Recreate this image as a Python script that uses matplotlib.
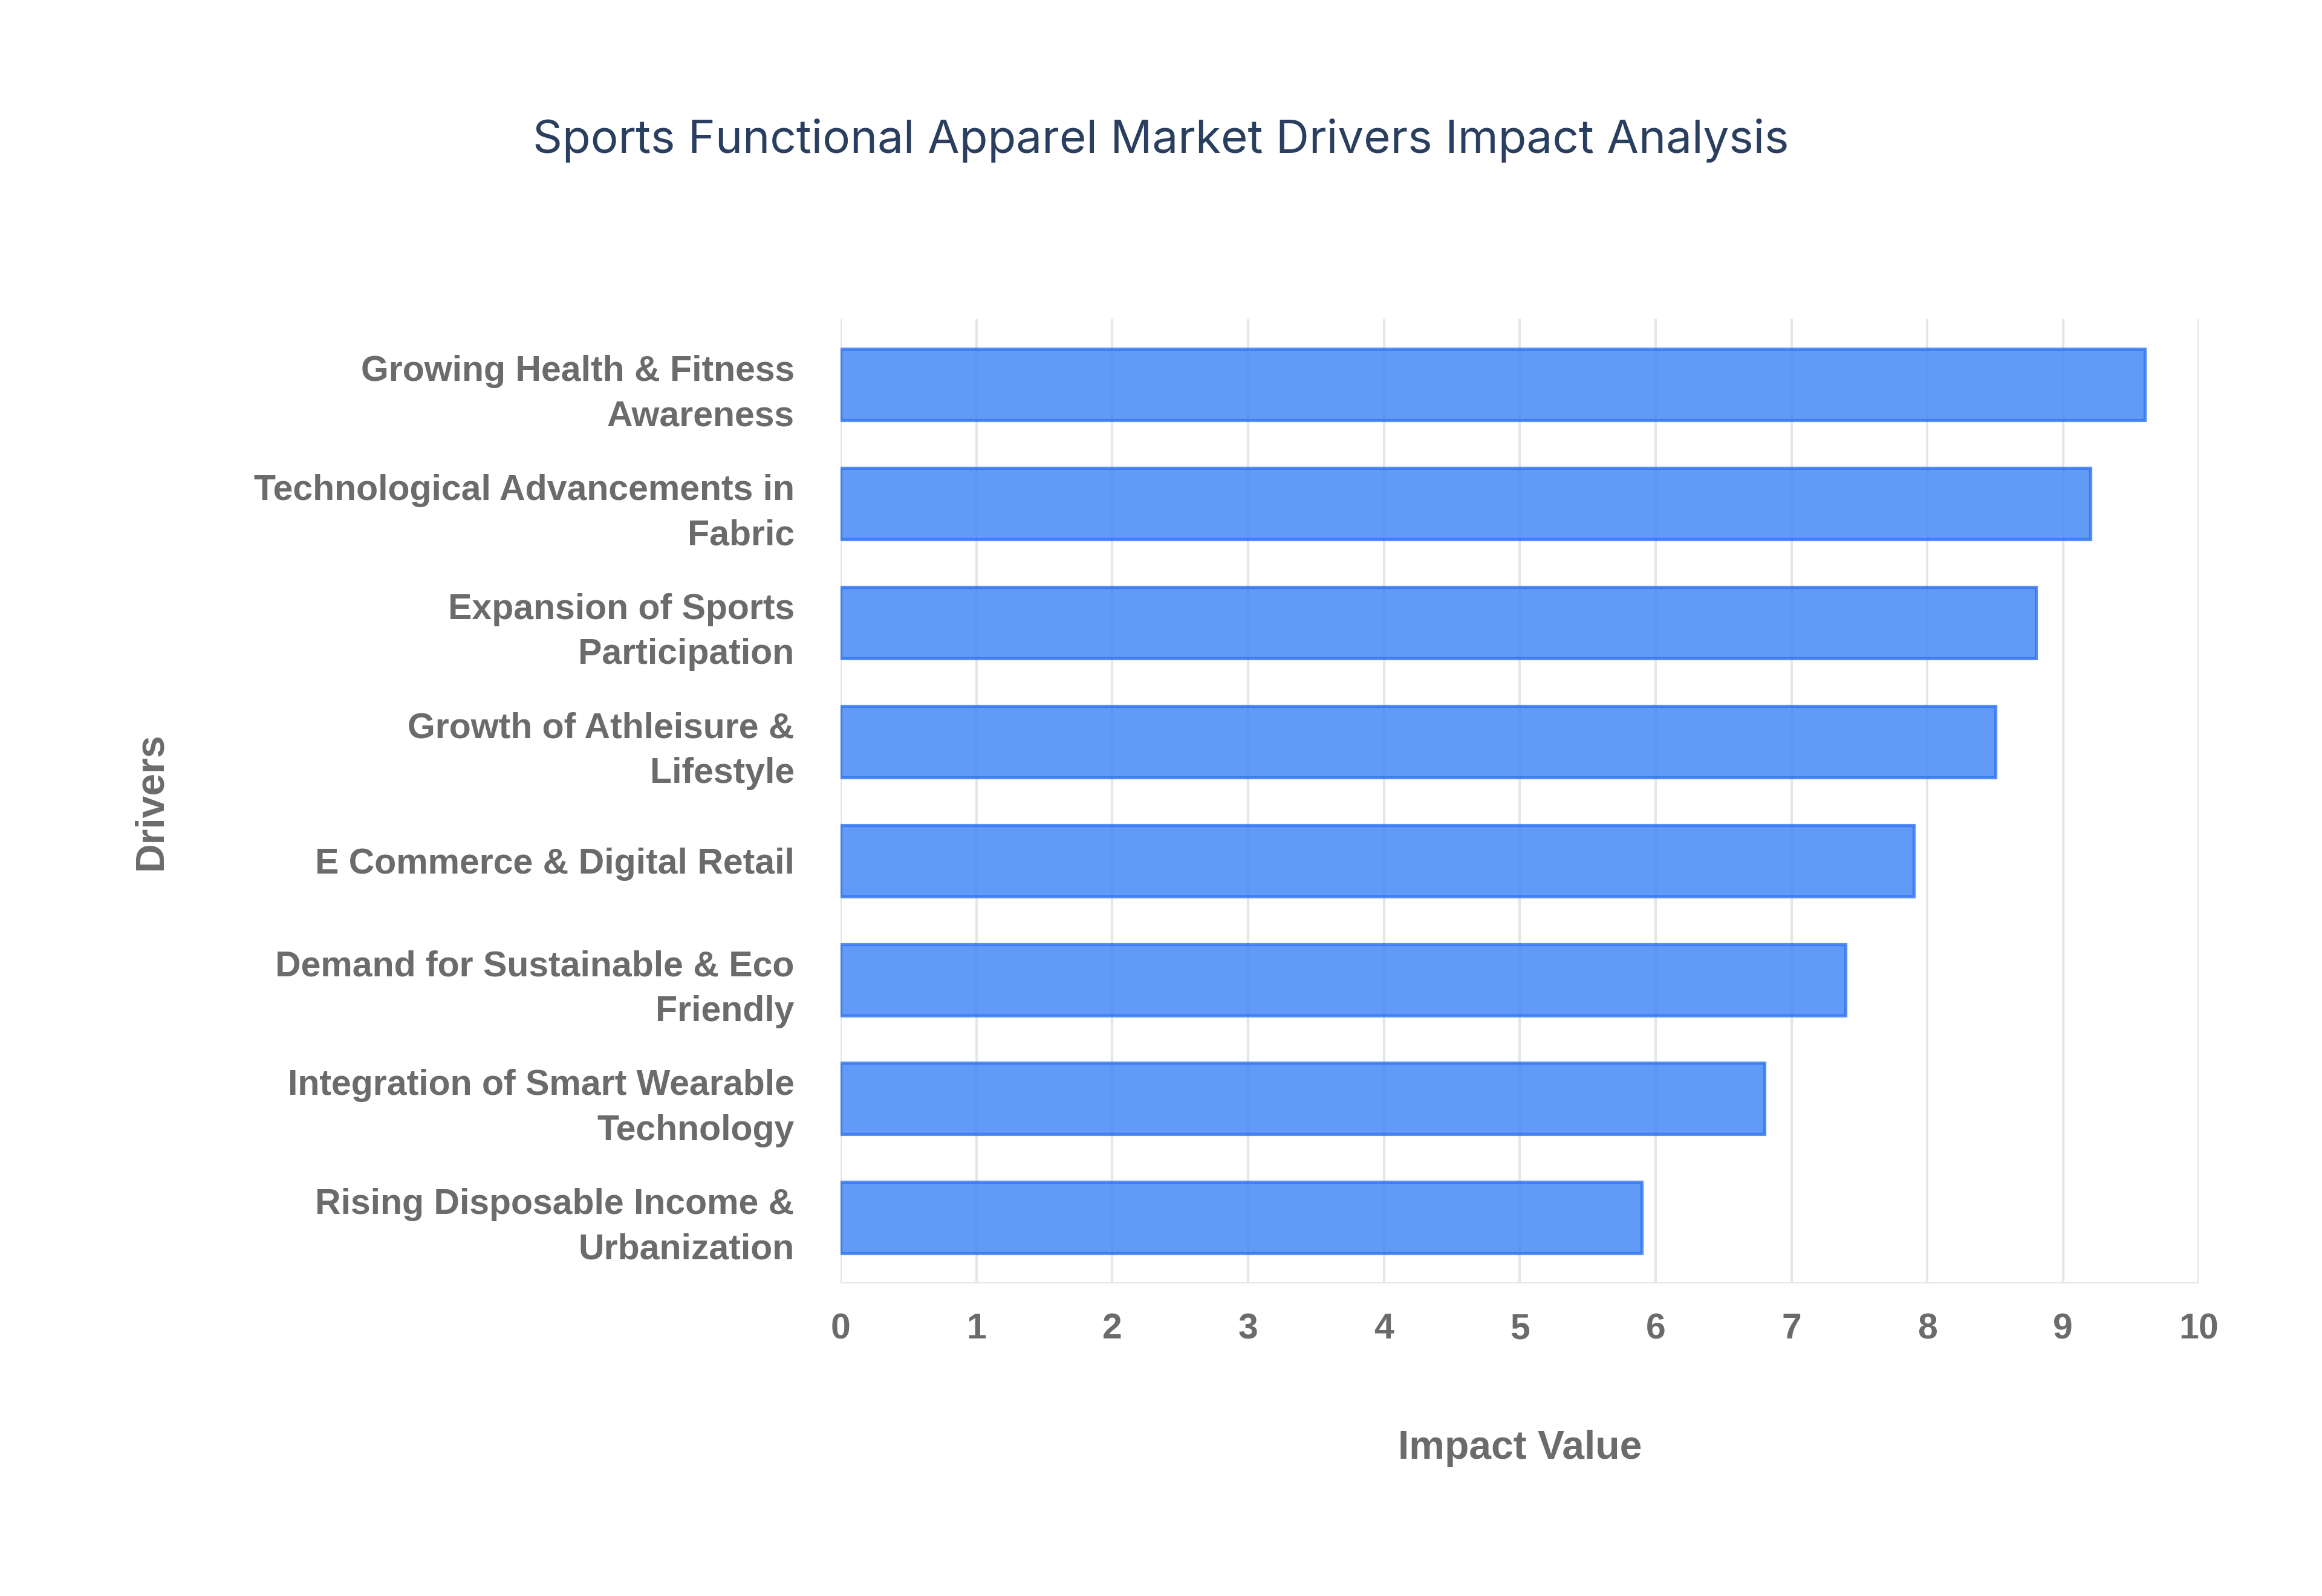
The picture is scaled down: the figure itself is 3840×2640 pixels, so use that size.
import matplotlib
matplotlib.use("Agg")
import matplotlib.pyplot as plt

drivers = ["Growing Health & Fitness\nAwareness",
           "Technological Advancements in\nFabric",
           "Expansion of Sports\nParticipation",
           "Growth of Athleisure &\nLifestyle",
           "E Commerce & Digital Retail",
           "Demand for Sustainable & Eco\nFriendly",
           "Integration of Smart Wearable\nTechnology",
           "Rising Disposable Income &\nUrbanization"]
impact = [9.6, 9.2, 8.8, 8.5, 7.9, 7.4, 6.8, 5.9]

plt.rcParams['font.family'] = ['Liberation Sans', 'DejaVu Sans']
grey = '#6b6b6b'

fig = plt.figure(figsize=(15.36, 10.56), dpi=250, facecolor='w')
ax = fig.add_axes([0.362, 0.196, 0.585, 0.604])

ypos = list(range(len(drivers)))
ax.barh(ypos, impact, height=0.6, color='#3b82f6', alpha=0.8,
        edgecolor='#2f74ef', linewidth=1.5, zorder=3)
ax.set_ylim(len(drivers) - 0.45, -0.55)
ax.set_xlim(0, 10)
ax.set_xticks(range(0, 11))
ax.set_yticks(ypos)
ax.set_yticklabels(drivers, fontsize=17, fontweight='bold', color=grey, linespacing=1.45)
ax.tick_params(axis='x', labelsize=17, labelcolor=grey, length=0, pad=14)
for lab in ax.get_xticklabels():
    lab.set_fontweight('bold')
ax.tick_params(axis='y', length=0, pad=22)
ax.grid(axis='x', color='#e6e6e6', linewidth=1.2, zorder=0)
for s in ax.spines.values():
    s.set_visible(False)
ax.axvline(0, color='#e6e6e6', linewidth=1.2, zorder=1)
ax.axhline(len(drivers) - 0.45, color='#e6e6e6', linewidth=1.2, zorder=1)

ax.set_xlabel('Impact Value', fontsize=19, fontweight='bold', color=grey, labelpad=40)
ax.set_ylabel('Drivers', fontsize=19, fontweight='bold', color=grey, labelpad=40)
fig.text(0.5, 0.912, 'Sports Functional Apparel Market Drivers Impact Analysis',
         ha='center', va='center', fontsize=22, color='#2a3f5f', family=['Inter', 'DejaVu Sans'])

fig.savefig('out.png', dpi=250)
